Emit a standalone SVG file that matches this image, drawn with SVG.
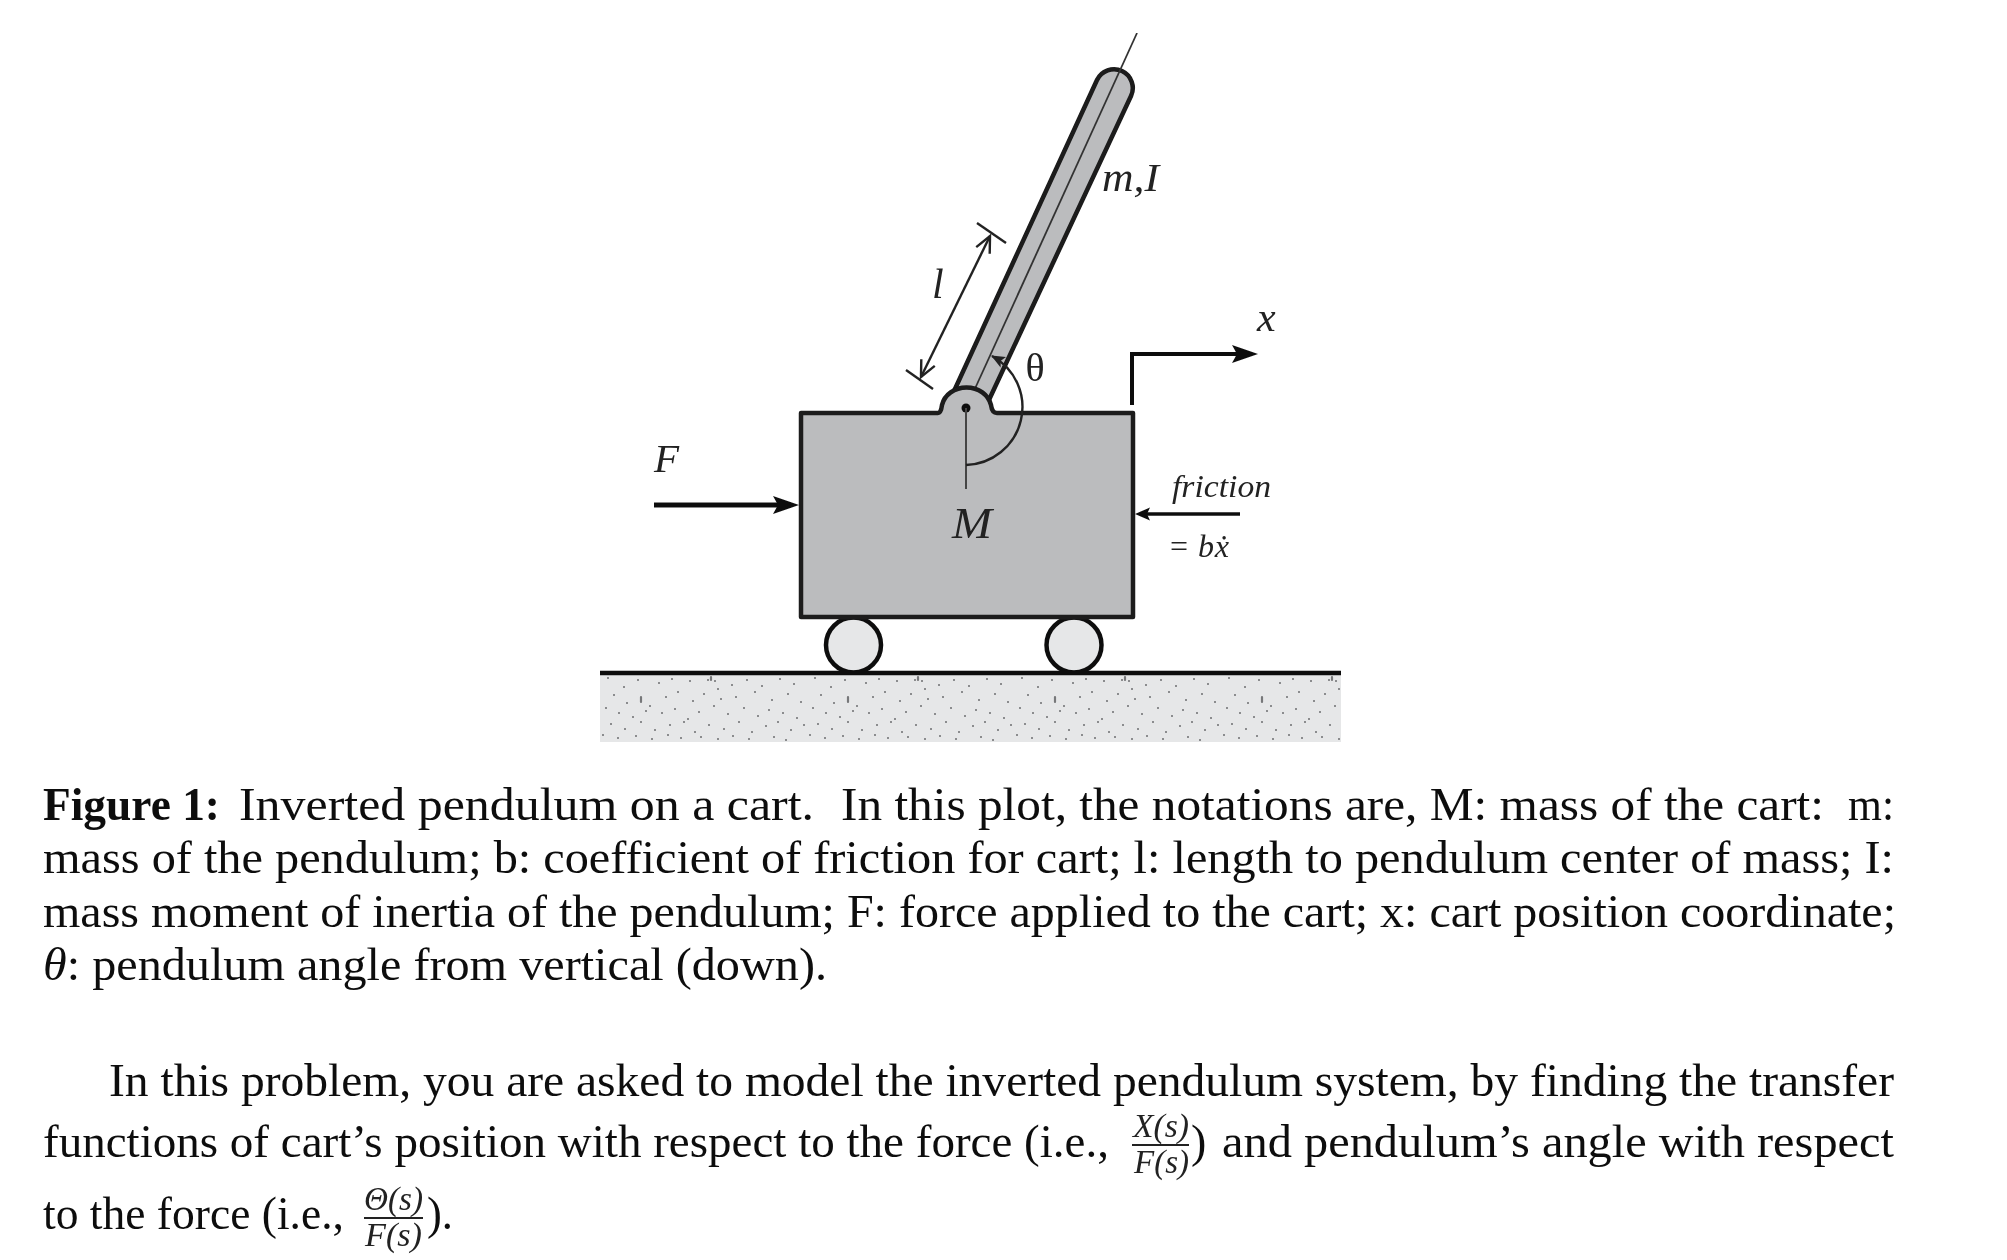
<svg xmlns="http://www.w3.org/2000/svg" width="2007" height="1260" viewBox="0 0 2007 1260">
<style>
.body{fill:#bbbcbe;stroke:#1a1a1a;stroke-width:4.5;stroke-linejoin:round}
.wheel{fill:#e6e7e8;stroke:#111;stroke-width:4.5}
.lab{font-family:"Liberation Serif",serif;font-style:italic;fill:#222}
.cap{font-family:"Liberation Serif",serif;font-size:46px;fill:#111}
.fr{font-family:"Liberation Serif",serif;font-size:33px;font-style:italic;fill:#222}
.thin{fill:none;stroke:#222;stroke-width:2.400}
.conn{fill:none;stroke:#111}
</style>
<defs>
<filter id="soft" x="0" y="0" width="100%" height="100%"><feGaussianBlur stdDeviation="0.6"/></filter>
<marker id="headL" markerUnits="userSpaceOnUse" markerWidth="30" markerHeight="20" refX="18" refY="10" orient="auto"><path d="M0 1L26 10L0 19L5 10Z" fill="#111"/></marker>
<marker id="headS" markerUnits="userSpaceOnUse" markerWidth="20" markerHeight="16" refX="10" refY="8" orient="auto"><path d="M0 1.500L15 8L0 14.500L3 8Z" fill="#111"/></marker>
<marker id="headO" markerUnits="userSpaceOnUse" markerWidth="20" markerHeight="18" refX="17" refY="9" orient="auto-start-reverse"><path d="M1 1.500L17 9L1 16.500" fill="none" stroke="#222" stroke-width="2.400"/></marker>
<marker id="headA" markerUnits="userSpaceOnUse" markerWidth="18" markerHeight="14" refX="13" refY="7" orient="auto"><path d="M0 1L14 7L0 13L3 7Z" fill="#222"/></marker>
<pattern id="speck" patternUnits="userSpaceOnUse" x="600" y="675" width="207" height="67">
<path fill="none" stroke="#77787a" stroke-width="2.200" stroke-linecap="round" d="M8 3h.01M24 12h.01M38 5h.01M41 22v5M59 8h.01M72 4h.01M90 6h.01M108 5h.01M111 2v3M115 6h.01M118 14h.01M132 10h.01M147 5h.01M162 11h.01M180 4h.01M194 9h.01M14 20h.01M27 28h.01M50 31h.01M66 22h.01M78 17h.01M93 26h.01M104 19h.01M121 24h.01M136 22h.01M155 17h.01M172 25h.01M188 19h.01M201 27h.01M6 33h.01M19 38h.01M33 42h.01M46 36h.01M62 38h.01M75 34h.01M88 44h.01M99 37h.01M114 31h.01M128 39h.01M144 33h.01M158 41h.01M169 35h.01M183 38h.01M197 43h.01M11 49h.01M25 54h.01M41 47h.01M55 55h.01M70 50h.01M84 47h.01M95 57h.01M109 50h.01M124 54h.01M139 47h.01M152 57h.01M166 51h.01M178 47h.01M191 55h.01M204 50h.01M3 60h.01M18 63h.01M36 61h.01M52 64h.01M68 60h.01M81 63h.01M101 62h.01M118 64h.01M133 61h.01M149 64h.01M174 62h.01M186 65h.01"/>
</pattern>
</defs>
<g filter="url(#soft)">
<g id="ground">
<rect x="600" y="673" width="741" height="69" fill="#e6e7e8"/>
<rect x="600" y="675" width="741" height="67" fill="url(#speck)"/>
</g>
<g id="wheel-left"><circle class="wheel" cx="853.500" cy="645" r="27.500"/></g>
<g id="wheel-right"><circle class="wheel" cx="1074" cy="645" r="27.500"/></g>
<line x1="600" y1="673" x2="1341" y2="673" stroke="#111" stroke-width="4.500"/>

<g id="pendulum">
<path class="body" d="M949 402L1097 80A18.500 18.500 0 0 1 1131 96L988 402Z"/>
<line x1="973" y1="393" x2="1137" y2="33" stroke="#333" stroke-width="1.800"/>
</g>
<g id="cart">
<path class="body" d="M801 413H938Q941 413 942 405A25 22 0 0 1 991 405Q992 413 997 413H1133V617H801Z"/>
<circle cx="966" cy="408" r="4.500" fill="#111"/>
<line x1="966" y1="408" x2="966" y2="489" stroke="#444" stroke-width="2"/>
<text class="lab" x="952" y="538" font-size="44" textLength="40" lengthAdjust="spacingAndGlyphs">M</text>
</g>

<g id="connectors">
<path class="conn" stroke-width="5" d="M654 505H791" marker-end="url(#headL)"/>
<path class="conn" stroke-width="4" d="M1132 405V354H1250" marker-end="url(#headL)"/>
<path class="conn" stroke-width="3.500" d="M1240 514H1140" marker-end="url(#headS)"/>
<line class="thin" x1="990" y1="236" x2="921" y2="377" marker-start="url(#headO)" marker-end="url(#headO)"/>
<line class="thin" x1="977" y1="223" x2="1006" y2="243"/>
<line class="thin" x1="906" y1="370" x2="933" y2="389"/>
<path class="thin" d="M966 465A58 58 0 0 0 992 356" marker-end="url(#headA)"/>
</g>

<g id="labels">
<text class="lab" x="1102" y="191" font-size="40" textLength="57" lengthAdjust="spacingAndGlyphs">m,I</text>
<text class="lab" x="932" y="298" font-size="42">l</text>
<text x="1035" y="381" font-size="40" text-anchor="middle" font-family="Liberation Serif,serif" fill="#222">θ</text>
<text class="lab" x="1257" y="331" font-size="42">x</text>
<text class="lab" x="654" y="472" font-size="41">F</text>
<text class="lab" x="1172" y="497" font-size="32" textLength="99" lengthAdjust="spacingAndGlyphs">friction</text>
<text class="lab" x="1170" y="557" font-size="32" textLength="59"><tspan font-style="normal">= </tspan>bẋ</text>
</g>

<g id="caption">
<text class="cap" y="820"><tspan x="43" font-weight="bold" textLength="177" lengthAdjust="spacingAndGlyphs">Figure 1:</tspan> <tspan x="239" textLength="575" lengthAdjust="spacingAndGlyphs">Inverted pendulum on a cart.</tspan> <tspan x="841" textLength="983" lengthAdjust="spacingAndGlyphs">In this plot, the notations are, M: mass of the cart:</tspan> <tspan x="1848" textLength="46" lengthAdjust="spacingAndGlyphs">m:</tspan></text>
<text class="cap" x="43" y="873" textLength="1851" lengthAdjust="spacingAndGlyphs">mass of the pendulum; b: coefficient of friction for cart; l: length to pendulum center of mass; I:</text>
<text class="cap" x="43" y="927" textLength="1853" lengthAdjust="spacingAndGlyphs">mass moment of inertia of the pendulum; F: force applied to the cart; x: cart position coordinate;</text>
<text class="cap" x="43" y="980" textLength="784" lengthAdjust="spacingAndGlyphs"><tspan font-style="italic">θ</tspan>: pendulum angle from vertical (down).</text>
</g>

<g id="paragraph">
<text class="cap" x="109" y="1096" textLength="1785" lengthAdjust="spacingAndGlyphs">In this problem, you are asked to model the inverted pendulum system, by finding the transfer</text>
<text class="cap" x="43" y="1157" textLength="1066" lengthAdjust="spacingAndGlyphs">functions of cart’s position with respect to the force (i.e.,</text>
<text class="fr" x="1133" y="1137" textLength="56" lengthAdjust="spacingAndGlyphs">X(s)</text>
<line x1="1132" y1="1145" x2="1189" y2="1145" stroke="#222" stroke-width="2"/>
<text class="fr" x="1134" y="1173" textLength="55" lengthAdjust="spacingAndGlyphs">F(s)</text>
<text class="cap" x="1191" y="1157">)</text>
<text class="cap" x="1222" y="1157" textLength="672" lengthAdjust="spacingAndGlyphs">and pendulum’s angle with respect</text>
<text class="cap" x="43" y="1229" textLength="301" lengthAdjust="spacingAndGlyphs">to the force (i.e.,</text>
<text class="fr" x="364" y="1210" textLength="59" lengthAdjust="spacingAndGlyphs">Θ(s)</text>
<line x1="364" y1="1218" x2="423" y2="1218" stroke="#222" stroke-width="2"/>
<text class="fr" x="365" y="1246" textLength="57" lengthAdjust="spacingAndGlyphs">F(s)</text>
<text class="cap" x="427" y="1229" textLength="26" lengthAdjust="spacingAndGlyphs">).</text>
</g>
</g>
</svg>
